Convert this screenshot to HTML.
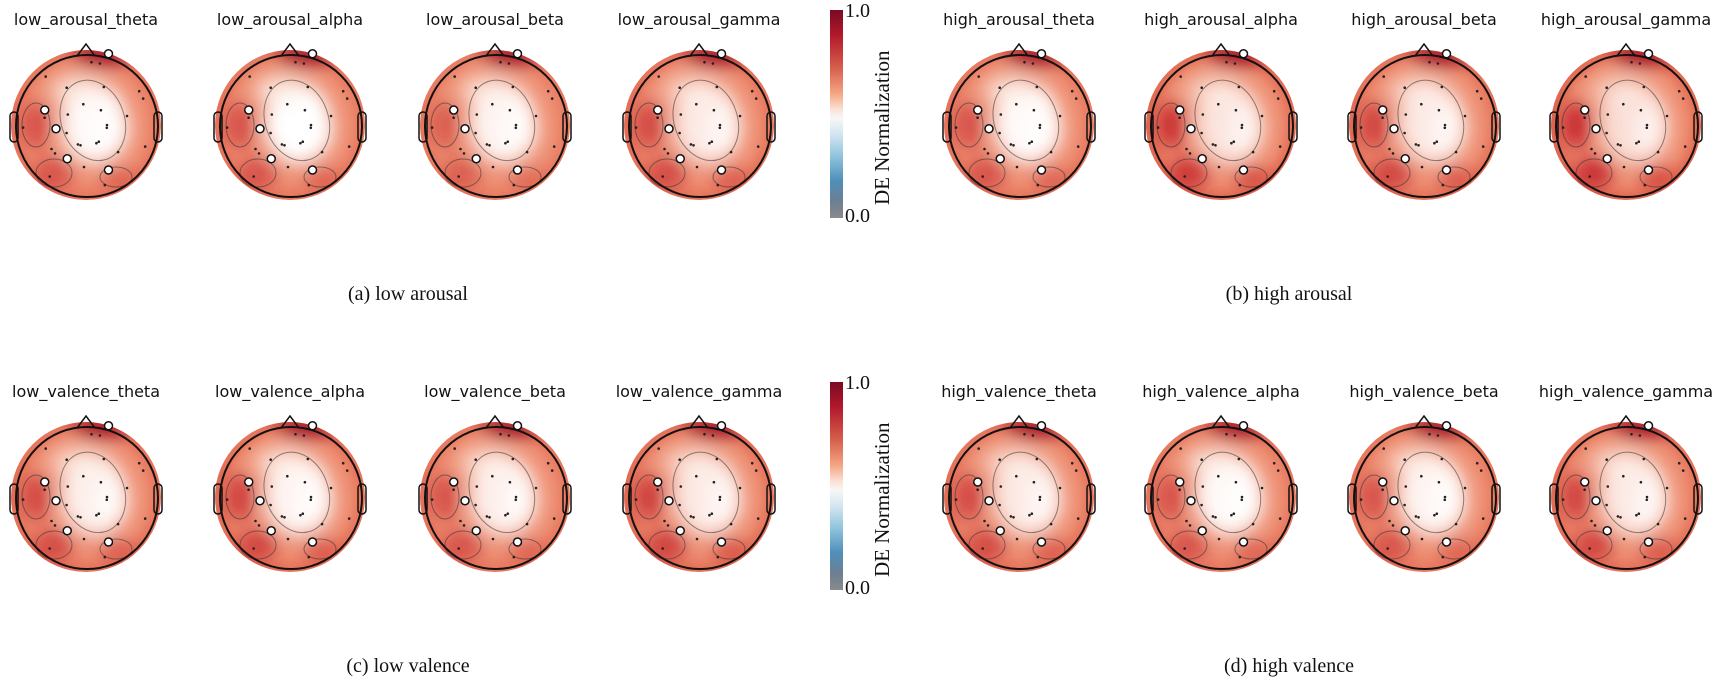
<!DOCTYPE html>
<html><head><meta charset="utf-8">
<style>
body{margin:0;background:#fff;width:1725px;height:692px;overflow:hidden;position:relative}
.t{position:absolute;font-family:"DejaVu Sans",sans-serif;font-size:16px;color:#111;transform:translateX(-50%);white-space:nowrap}
.c{position:absolute;font-family:"Liberation Serif",serif;font-size:20px;color:#111;transform:translateX(-50%);white-space:nowrap}
.cb{position:absolute;width:13px;background:linear-gradient(to bottom,#7a0a22 0%,#b2182b 12%,#d6604d 28%,#f4a582 40%,#fbe3d6 48%,#f7f7f7 52%,#d1e5f0 60%,#92c5de 70%,#4f8fba 82%,#6c7f92 92%,#8a8a8a 100%)}
.cl{position:absolute;font-family:"Liberation Serif",serif;font-size:20px;color:#111}
.cv{position:absolute;font-family:"Liberation Serif",serif;font-size:21px;color:#111;transform:rotate(-90deg);transform-origin:left top;white-space:nowrap}
</style></head><body>
<svg id="s" width="1725" height="692" style="position:absolute;left:0;top:0">
<defs><filter id="bl" x="-50%" y="-50%" width="200%" height="200%"><feGaussianBlur stdDeviation="9"/></filter>
<filter id="bl2" x="-50%" y="-50%" width="200%" height="200%"><feGaussianBlur stdDeviation="5"/></filter></defs>
</svg>
<div id="txt"></div>
<script>
const xs=[86,290,495,699,1019,1221,1424,1626];
const names=[["low_arousal_theta","low_arousal_alpha","low_arousal_beta","low_arousal_gamma","high_arousal_theta","high_arousal_alpha","high_arousal_beta","high_arousal_gamma"],
["low_valence_theta","low_valence_alpha","low_valence_beta","low_valence_gamma","high_valence_theta","high_valence_alpha","high_valence_beta","high_valence_gamma"]];
// whiteness and redness per map
const W=[[0.95,1,0.9,0.8,0.95,0.75,0.8,0.7],[0.85,0.9,0.85,0.8,0.8,0.95,0.9,0.8]];
const Rd=[[0.6,0.6,0.5,0.7,0.6,0.9,0.75,0.95],[0.7,0.75,0.6,0.8,0.7,0.6,0.6,0.75]];
let s=document.getElementById('s'),h='';let txt='';
const R=75;
for(let row=0;row<2;row++){
 const cy=125+row*372;
 for(let i=0;i<8;i++){
  const cx=xs[i];const w=W[row][i],r=Rd[row][i];const id='c'+row+i;
  h+=`<clipPath id="${id}"><circle cx="${cx}" cy="${cy}" r="${R}"/></clipPath>`;
  h+=`<g clip-path="url(#${id})"><circle cx="${cx}" cy="${cy}" r="${R}" fill="#ee8f73"/>`;
  h+=`<circle cx="${cx}" cy="${cy}" r="${R}" fill="none" stroke="#e0604a" stroke-width="18" opacity="${r*0.8}" filter="url(#bl2)"/>`;
  h+=`<g filter="url(#bl)">`;
  h+=`<ellipse cx="${cx+8}" cy="${cy-2}" rx="${R*0.45}" ry="${R*0.55}" fill="#fff" opacity="${w}"/>`;
  h+=`<ellipse cx="${cx-10}" cy="${cy-35}" rx="${R*0.35}" ry="${R*0.2}" fill="#fdf1ea" opacity="${w*0.8}"/>`;
  h+=`<ellipse cx="${cx+25}" cy="${cy+5}" rx="${R*0.25}" ry="${R*0.35}" fill="#fff" opacity="${w*0.8}"/>`;
  h+=`<ellipse cx="${cx+15}" cy="${cy-R+5}" rx="28" ry="12" fill="#9e1226" opacity="${0.9}"/>`;
  h+=`<ellipse cx="${cx-50}" cy="${cy}" rx="16" ry="24" fill="#c6292e" opacity="${r}"/>`;
  h+=`<ellipse cx="${cx-32}" cy="${cy+48}" rx="20" ry="16" fill="#c6292e" opacity="${r}"/>`;
  h+=`<ellipse cx="${cx+30}" cy="${cy+52}" rx="18" ry="12" fill="#cf3a34" opacity="${r*0.9}"/>`;
  h+=`</g>`;
  // contour-ish lines
  h+=`<ellipse cx="${cx+8}" cy="${cy-2}" rx="${R*0.42}" ry="${R*0.55}" fill="none" stroke="#333" stroke-width="1" opacity="0.55" transform="rotate(-20 ${cx} ${cy})"/>`;
  h+=`<ellipse cx="${cx-50}" cy="${cy}" rx="14" ry="22" fill="none" stroke="#333" stroke-width="1" opacity="0.55"/>`;
  h+=`<ellipse cx="${cx-32}" cy="${cy+48}" rx="18" ry="14" fill="none" stroke="#333" stroke-width="1" opacity="0.55"/>`;
  h+=`<ellipse cx="${cx+30}" cy="${cy+52}" rx="16" ry="10" fill="none" stroke="#333" stroke-width="1" opacity="0.55"/>`;
  // dots
  for(let a=0;a<28;a++){const rr=(a%3+1)*0.28*R;const an=a*2.4;h+=`<circle cx="${(cx+rr*Math.cos(an)).toFixed(1)}" cy="${(cy+rr*Math.sin(an)).toFixed(1)}" r="1.3" fill="#222"/>`;}
  h+=`</g>`;
  // head outline
  h+=`<circle cx="${cx+1}" cy="${cy+1}" r="71" fill="none" stroke="#111" stroke-width="2"/>`;
  h+=`<path d="M${cx-9} ${cy-69} L${cx} ${cy-81} L${cx+9} ${cy-69}" fill="none" stroke="#111" stroke-width="1.5"/>`;
  h+=`<rect x="${cx-76}" y="${cy-13}" width="8" height="30" rx="4" fill="none" stroke="#111" stroke-width="1.5"/>`;
  h+=`<rect x="${cx+68}" y="${cy-13}" width="8" height="30" rx="4" fill="none" stroke="#111" stroke-width="1.5"/>`;
  // white markers
  const mk=[[-0.55,-0.2],[-0.4,0.05],[-0.25,0.45],[0.3,0.6],[0.3,-0.95]];
  for(const m of mk){h+=`<circle cx="${cx+m[0]*R}" cy="${cy+m[1]*R}" r="4" fill="#fff" stroke="#111" stroke-width="1.5"/>`;}
  txt+=`<div class="t" style="left:${cx}px;top:${row*372+10}px">${names[row][i]}</div>`;
 }
 txt+=`<div class="cb" style="left:830px;top:${10+row*372}px;height:208px"></div>`;
 txt+=`<div class="cl" style="left:845px;top:${row*372}px">1.0</div>`;
 txt+=`<div class="cl" style="left:845px;top:${row*372+205}px">0.0</div>`;
 txt+=`<div class="cv" style="left:870px;top:${row*372+205}px">DE Normalization</div>`;
 txt+=`<div class="c" style="left:408px;top:${283+row*372}px">${row?'(c) low valence':'(a) low arousal'}</div>`;
 txt+=`<div class="c" style="left:1289px;top:${283+row*372}px">${row?'(d) high valence':'(b) high arousal'}</div>`;
}
s.innerHTML+=h;document.getElementById('txt').innerHTML=txt;
</script>
</body></html>
